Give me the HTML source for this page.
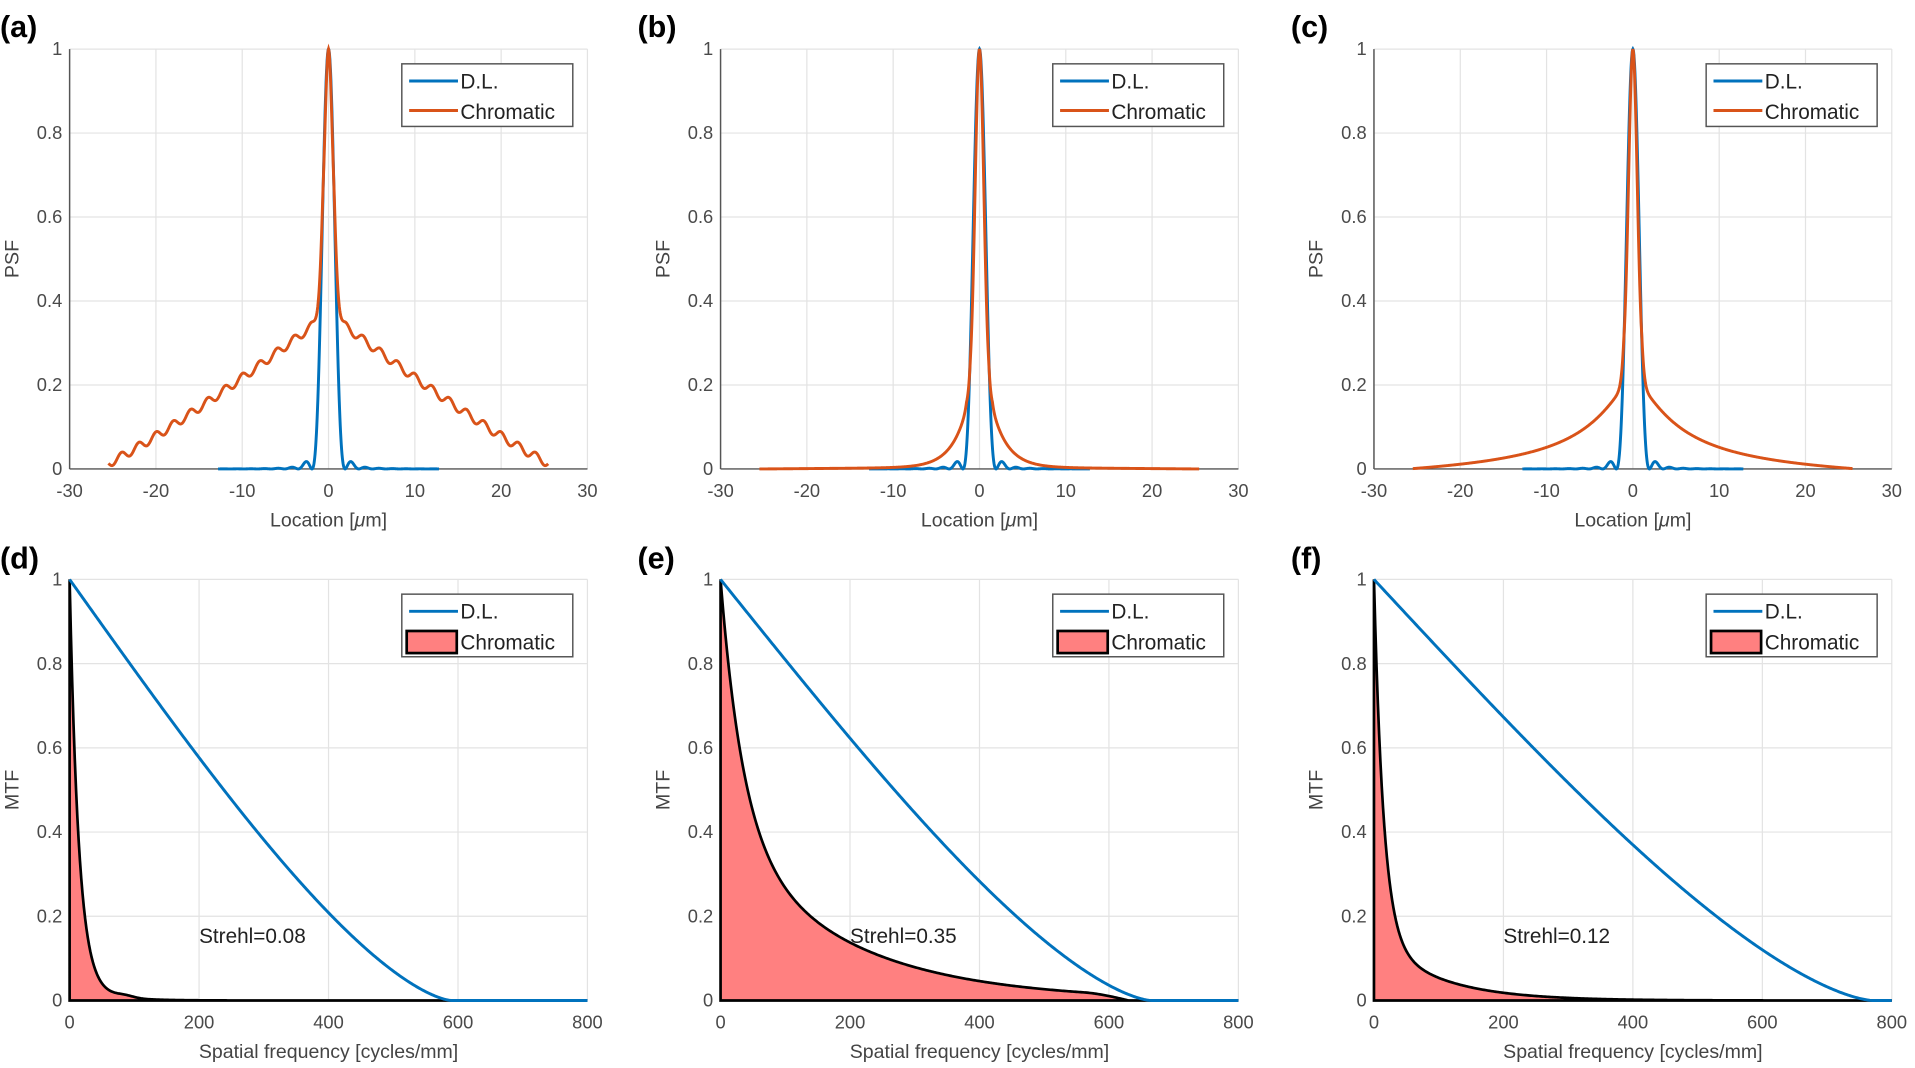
<!DOCTYPE html>
<html><head><meta charset="utf-8"><style>
html,body{margin:0;padding:0;background:#fff;}
svg{display:block;}
text{font-family:"Liberation Sans",Arial,sans-serif;}
</style></head><body>
<svg id="s" width="1915" height="1068" viewBox="0 0 1568 870" preserveAspectRatio="none" xmlns="http://www.w3.org/2000/svg"></svg>
<script>
var S=document.getElementById('s');var h='';
var panels=[
 {x0:57,x1:481,y0:40,y1:382,lab:'(a)',lx:0,ly:30,type:'psf',k:0},
 {x0:590,x1:1014,y0:40,y1:382,lab:'(b)',lx:522,ly:30,type:'psf',k:1},
 {x0:1125,x1:1549,y0:40,y1:382,lab:'(c)',lx:1057,ly:30,type:'psf',k:2},
 {x0:57,x1:481,y0:472,y1:815,lab:'(d)',lx:0,ly:463,type:'mtf',k:0},
 {x0:590,x1:1014,y0:472,y1:815,lab:'(e)',lx:522,ly:463,type:'mtf',k:1},
 {x0:1125,x1:1549,y0:472,y1:815,lab:'(f)',lx:1057,ly:463,type:'mtf',k:2}];
function sq(v){return v*v;}
function J1(x){var n=200,s=0;for(var i=0;i<n;i++){var t=(i+0.5)*Math.PI/n;s+=Math.cos(t-x*Math.sin(t));}return s/n;}
function dl(x){ var a=Math.abs(x)*2.0; if(a<1e-6) return 1; var v=2*J1(a)/a; return v*v;}
function psfC(k,x){var ax=Math.abs(x);var c=Math.exp(-sq(x/0.75));var b;
 if(k===0){b=0.37*Math.pow(Math.max(0,1-ax/27),1.15)+0.01*Math.cos(Math.PI*ax)*Math.min(1,ax/2);b*=Math.min(1,0.35+ax);}
 else if(k===1){b=0.14*Math.exp(-Math.max(0,ax-1.5)/1.8)*Math.min(1,0.3+ax/1.5)+0.004*Math.max(0,1-ax/25);}
 else{b=(0.22/(1+Math.pow(ax/5,1.4)))*Math.max(0,1-sq(ax/26))*Math.min(1,0.3+ax/1.5);}
 return Math.min(1,c+(1-c)*b);}
function mtfD(k,f){var fc=[590,665,770][k];var v=f/fc;if(v>=1)return 0;return 2/Math.PI*(Math.acos(v)-v*Math.sqrt(1-v*v));}
function mtfC(k,f){var y;
 if(k===0){y=0.95*Math.exp(-f/14)+0.05*Math.exp(-f/45);y+=0.006*Math.exp(-sq((f-85)/20));y*=Math.max(0,1-f/800);}
 else if(k===1){y=0.6*Math.exp(-f/35)+0.4*Math.exp(-f/185);y*=f<560?1:Math.max(0,1-sq((f-560)/70));}
 else{y=0.85*Math.exp(-f/15)+0.15*Math.exp(-f/110);y*=Math.max(0,1-f/800);}
 return y;}
panels.forEach(function(p){
 var W=p.x1-p.x0,H=p.y1-p.y0;
 var xmin=p.type==='psf'?-30:0,xmax=p.type==='psf'?30:800;
 var X=function(v){return p.x0+(v-xmin)/(xmax-xmin)*W;},Y=function(v){return p.y1-v*H;};
 var xt=p.type==='psf'?[-30,-20,-10,0,10,20,30]:[0,200,400,600,800];
 xt.forEach(function(t){h+='<line x1="'+X(t)+'" y1="'+p.y0+'" x2="'+X(t)+'" y2="'+p.y1+'" stroke="#e3e3e3" stroke-width="1"/>';
  h+='<text x="'+X(t)+'" y="'+(p.y1+23)+'" font-size="15" fill="#4a4a4a" text-anchor="middle">'+t+'</text>';});
 for(var i=0;i<=5;i++){var v=i/5;h+='<line x1="'+p.x0+'" y1="'+Y(v)+'" x2="'+p.x1+'" y2="'+Y(v)+'" stroke="#e3e3e3" stroke-width="1"/>';
  h+='<text x="'+(p.x0-6)+'" y="'+(Y(v)+5)+'" font-size="15" fill="#4a4a4a" text-anchor="end">'+(i==0?0:i==5?1:v.toFixed(1))+'</text>';}
 h+='<line x1="'+p.x0+'" y1="'+p.y0+'" x2="'+p.x0+'" y2="'+p.y1+'" stroke="#555" stroke-width="1.2"/>';
 h+='<line x1="'+p.x0+'" y1="'+p.y1+'" x2="'+p.x1+'" y2="'+p.y1+'" stroke="#555" stroke-width="1.2"/>';
 h+='<text x="'+p.lx+'" y="'+p.ly+'" font-size="25" font-weight="bold" fill="#000">'+p.lab+'</text>';
 var cx=(p.x0+p.x1)/2,d='',e='',x,f;
 if(p.type==='psf'){
  h+='<text x="'+cx+'" y="'+(p.y1+47)+'" font-size="16" fill="#444" text-anchor="middle">Location [<tspan font-style="italic">μ</tspan>m]</text>';
  h+='<text transform="translate('+(p.x0-42)+','+((p.y0+p.y1)/2)+') rotate(-90)" font-size="16" fill="#444" text-anchor="middle">PSF</text>';
  for(x=-25.5;x<=25.5;x+=0.05){d+=(d?'L':'M')+X(x).toFixed(2)+' '+Y(psfC(p.k,x)).toFixed(2);}
  for(x=-12.8;x<=12.8;x+=0.04){e+=(e?'L':'M')+X(x).toFixed(2)+' '+Y(dl(x)).toFixed(2);}
  h+='<path d="'+e+'" fill="none" stroke="#0072BD" stroke-width="2.4"/>';
  h+='<path d="'+d+'" fill="none" stroke="#D95319" stroke-width="2.4"/>';
 }else{
  h+='<text x="'+cx+'" y="'+(p.y1+47)+'" font-size="16" fill="#444" text-anchor="middle">Spatial frequency [cycles/mm]</text>';
  h+='<text transform="translate('+(p.x0-42)+','+((p.y0+p.y1)/2)+') rotate(-90)" font-size="16" fill="#444" text-anchor="middle">MTF</text>';
  d='M'+X(0)+' '+Y(0);for(f=0;f<=800;f+=2){d+='L'+X(f).toFixed(2)+' '+Y(mtfC(p.k,f)).toFixed(2);}
  d+='L'+X(800)+' '+Y(0)+'Z';
  h+='<path d="'+d+'" fill="#FF8080" stroke="#000" stroke-width="2.2"/>';
  for(f=0;f<=800;f+=2){e+=(e?'L':'M')+X(f).toFixed(2)+' '+Y(mtfD(p.k,f)).toFixed(2);}
  h+='<path d="'+e+'" fill="none" stroke="#0072BD" stroke-width="2.4"/>';
  var st=['0.08','0.35','0.12'][p.k];
  h+='<text x="'+(p.x0+106)+'" y="'+(p.y1-47)+'" font-size="17" fill="#222">Strehl='+st+'</text>';
 }
 var lx=p.x1-152,ly=p.y0+12;
 h+='<rect x="'+lx+'" y="'+ly+'" width="140" height="51" fill="#fff" stroke="#555" stroke-width="1.2"/>';
 h+='<line x1="'+(lx+6)+'" y1="'+(ly+14)+'" x2="'+(lx+46)+'" y2="'+(ly+14)+'" stroke="#0072BD" stroke-width="2.4"/>';
 h+='<text x="'+(lx+48)+'" y="'+(ly+20)+'" font-size="17" fill="#222">D.L.</text>';
 if(p.type==='psf') h+='<line x1="'+(lx+6)+'" y1="'+(ly+38)+'" x2="'+(lx+46)+'" y2="'+(ly+38)+'" stroke="#D95319" stroke-width="2.4"/>';
 else h+='<rect x="'+(lx+4)+'" y="'+(ly+30)+'" width="41" height="18" fill="#FF8080" stroke="#000" stroke-width="2.2"/>';
 h+='<text x="'+(lx+48)+'" y="'+(ly+45)+'" font-size="17" fill="#222">Chromatic</text>';
});
S.innerHTML=h;
</script>
</body></html>
